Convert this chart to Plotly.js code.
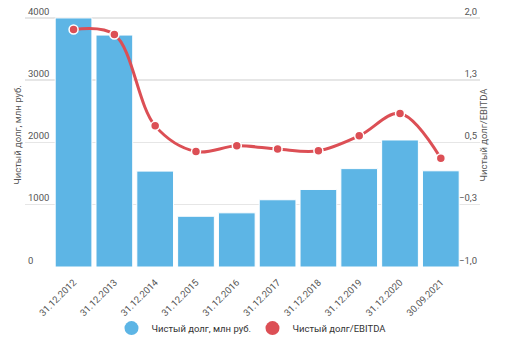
<!DOCTYPE html>
<html><head><meta charset="utf-8">
<script src="https://cdn.plot.ly/plotly-3.0.1.min.js"></script>
<style>html,body{margin:0;padding:0;background:#fff}#chart{width:515px;height:345px}</style>
</head><body><div id="chart"></div>
<script>
const categories = ["31.12.2012","31.12.2013","31.12.2014","31.12.2015","31.12.2016","31.12.2017","31.12.2018","31.12.2019","31.12.2020","30.09.2021"];
const netDebt = [4000, 3725, 1540, 815, 870, 1080, 1245, 1580, 2040, 1545];
const debtToEbitda = [1.86, 1.80, 0.70, 0.39, 0.46, 0.42, 0.40, 0.58, 0.85, 0.31];
const leftTicks = [0, 1000, 2000, 3000, 4000];
const rightTicks = [-1, -0.25, 0.5, 1.25, 2];
const seriesNames = ["Чистый долг, млн руб.", "Чистый долг/EBITDA"];

const barColor = "#5db5e5", lineColor = "#dc4f55";
const gridColor = "#e6e6e6", tickColor = "#555";
const fs = 9.5;

const traces = [
  {type:"bar", x:categories, y:netDebt, name:seriesNames[0], showlegend:false,
   marker:{color:barColor, line:{color:"#ffffff", width:1}}, hoverinfo:"x+y"},
  {type:"scatter", mode:"lines+markers", x:categories, y:debtToEbitda, yaxis:"y2",
   name:seriesNames[1], showlegend:false,
   line:{color:lineColor, width:3, shape:"spline", smoothing:1},
   marker:{color:lineColor, size:9, line:{color:"#ffffff", width:1.5}}},
  {type:"scatter", mode:"markers", x:[null], y:[null], name:seriesNames[0],
   marker:{color:barColor, size:14}},
  {type:"scatter", mode:"markers", x:[null], y:[null], name:seriesNames[1], yaxis:"y2",
   marker:{color:lineColor, size:14}}
];

const layout = {
  width:515, height:345,
  margin:{l:25, r:35, t:3, b:78},
  paper_bgcolor:"#fff", plot_bgcolor:"#fff",
  font:{family:"Roboto, 'Noto Sans', sans-serif", size:fs, color:tickColor},
  separators:", ",
  bargap:0.1,
  showlegend:true,
  legend:{orientation:"h", x:0.5, xanchor:"center", y:0.049, yref:"container", yanchor:"middle",
          bgcolor:"rgba(0,0,0,0)", font:{size:fs, color:"#333"}, entrywidth:96},
  xaxis:{type:"category", range:[-1.19, 9.96], tickangle:-45, showgrid:false,
         zeroline:false, showline:false, ticks:"", ticklabelstandoff:7,
         tickfont:{size:fs, color:tickColor}},
  yaxis:{range:[0,4240], tickvals:leftTicks, gridcolor:gridColor, gridwidth:1.5,
         zeroline:false, showline:false, ticks:"", ticklabelposition:"inside top",
         tickfont:{size:fs, color:tickColor},
         title:{text:seriesNames[0], font:{size:fs, color:tickColor}, standoff:4}},
  yaxis2:{range:[-1,2.18], tickvals:rightTicks, tickformat:".1f", overlaying:"y", side:"right",
          showgrid:false, zeroline:false, showline:false, ticks:"", ticklabelposition:"inside top",
          tickfont:{size:fs, color:tickColor},
          title:{text:seriesNames[1], font:{size:fs, color:tickColor}, standoff:4}}
};

Plotly.newPlot("chart", traces, layout, {displayModeBar:false, staticPlot:true});
</script>
</body></html>
